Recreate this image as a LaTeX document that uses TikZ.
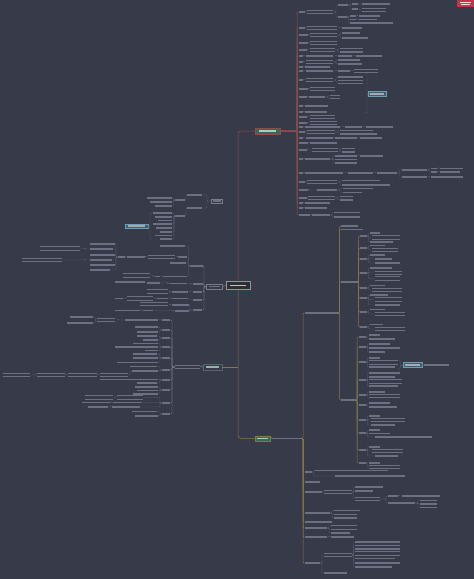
\documentclass[tikz,border=0pt]{standalone}
\usetikzlibrary{calc}
\definecolor{bgc}{HTML}{373A49}
\definecolor{txc}{HTML}{6D7081}
\definecolor{cnc}{HTML}{5C5F70}
\definecolor{rbc}{HTML}{8A4E4B}
\definecolor{olc}{HTML}{857847}
\definecolor{glc}{HTML}{787B8B}
\definecolor{grn}{HTML}{5FB38A}
\definecolor{grnfill}{HTML}{41645A}
\definecolor{grntx}{HTML}{9FD3B6}
\definecolor{tealfill}{HTML}{3F5F6E}
\definecolor{tealline}{HTML}{6D9DB0}
\definecolor{redc}{HTML}{C8334B}
\tikzset{
  conn/.style={draw=cnc, line width=0.35pt, rounded corners=0.8pt},
  rbline/.style={draw=rbc, line width=0.5pt, rounded corners=1pt},
  olline/.style={draw=olc, line width=0.5pt, rounded corners=1pt},
  glline/.style={draw=glc, line width=0.45pt, rounded corners=1pt},
  txtc/.style={fill=txc},
  cbox/.style={draw=grn, fill=black!20!bgc, line width=0.6pt, minimum width=24pt, minimum height=8pt, inner sep=0pt},
  brbox/.style={fill=grnfill, line width=0.5pt, inner sep=0pt},
  plainbox/.style={draw=glc, fill=bgc, line width=0.4pt, inner sep=0pt},
  sbox/.style={draw=tealline, fill=tealfill, line width=0.4pt, inner sep=0pt},
  redbox/.style={fill=redc, inner sep=0pt, minimum width=17pt, minimum height=7pt}
}
\newcommand\tbar[4]{\foreach \k in {1,...,#4}{\fill[txtc] ({#1},{#3+(\k-(#4+1)/2)*3.4-0.55}) rectangle ({#2},{#3+(\k-(#4+1)/2)*3.4+0.55});}}
\newcommand\RG[5][conn]{\foreach \yy/\xa/\xb/\nn in {#5}{\draw[#1] (#2,#3) -- (#4,#3) -- (#4,\yy) -- ({\xa-0.7},\yy); \tbar{\xa}{\xb}{\yy}{\nn}}}
\newcommand\LG[5][conn]{\foreach \yy/\xa/\xb/\nn in {#5}{\draw[#1] (#2,#3) -- (#4,#3) -- (#4,\yy) -- ({\xb+0.7},\yy); \tbar{\xa}{\xb}{\yy}{\nn}}}
\begin{document}
\begin{tikzpicture}[x=1pt,y=-1pt]
\fill[bgc] (0,0) rectangle (474,579);
\useasboundingbox (0,0) rectangle (474,579);

% ---------- main nodes ----------
\node[cbox] (center) at (238,285.5) {};
\fill[grntx] (230,284.8) rectangle (246,286.2);
\node[brbox, draw=rbc, minimum width=25pt, minimum height=6pt] (b1) at (267.5,131) {};
\fill[grntx] (259,130.4) rectangle (276,131.6);
\node[brbox, draw=olc, minimum width=15pt, minimum height=5.5pt] (b4) at (262.5,438.5) {};
\fill[grntx] (257,437.9) rectangle (268,439.1);
\node[plainbox, minimum width=16pt, minimum height=5pt] (b2) at (214,286.5) {};
\fill[txc] (208.5,285.9) rectangle (219.5,287.1);
\node[plainbox, draw=cnc, minimum width=19pt, minimum height=6pt] (b3) at (212.5,367) {};
\fill[grntx!70!txc] (206,366.4) rectangle (219,367.6);
\node[sbox, minimum width=18pt, minimum height=5pt] (s1) at (377,94) {};
\fill[txc!60!white] (370,93.4) rectangle (384,94.6);
\node[sbox, minimum width=23pt, minimum height=4.5pt] (s2) at (136.5,226) {};
\fill[txc!60!white] (128,225.4) rectangle (145,226.6);
\node[sbox, minimum width=19pt, minimum height=5pt] (s3) at (412.5,365) {};
\fill[txc!60!white] (405,364.4) rectangle (420,365.6);
\node[plainbox, minimum width=11pt, minimum height=4.5pt] (f1) at (216.5,201) {};
\fill[txc] (212.5,200.4) rectangle (220.5,201.6);
\node[redbox] (badge) at (465.5,3.5) {};
\fill[white!85!redc] (460,1.8) rectangle (471,2.7);
\fill[white!85!redc] (461,4.3) rectangle (470,5.2);

% ---------- trunk connectors ----------
\draw[rbline, rounded corners=3pt] (center.north) -- (center.north |- b1) -- (b1.west);
\draw[olline, rounded corners=3pt] (center.south) -- (center.south |- b4) -- (b4.west);
\draw[olline, rounded corners=3pt] (center.south |- b3) -- (b3.east);
\draw[glline] (center.west) -- (b2.east);

% ---------- branch 1 (top right) ----------
\RG[rbline]{280}{131}{297}{12/299/305/1, 28/299/305/1, 35/299/308/1, 43/299/308/1, 50/299/307/1, 56/299/303/1, 62/299/303/1, 67/299/303/1, 71/299/303/1, 80/299/303/1, 89/299/308/1, 97/299/307/1, 106/299/303/1, 112/299/303/1, 117/299/307/1, 123/299/307/1, 127/299/303/1, 132/299/305/1, 138/299/303/1, 143/299/308/1, 150/299/307/1, 159/299/303/1, 173/299/303/1, 182/299/305/1, 190/299/308/1, 198/299/307/1, 203/299/303/1, 208/299/303/1, 215/299/310/1}
\RG{305}{12}{306}{12/307/333/2}
\RG{305}{28}{306}{28/307/337/2}
\RG{308}{35}{309}{35/310/337/2}
\RG{308}{43}{309}{43/310/337/2}
\RG{307}{50}{308}{50/310/335/2}
\RG{303}{56}{304}{56/306/333/1}
\RG{303}{62}{304}{62/306/333/2}
\RG{303}{67}{304}{67/305/330/1}
\RG{303}{71}{304}{71/306/333/1}
\RG{303}{80}{304}{80/306/333/2}
\RG{308}{89}{309}{89/310/335/2}
\RG{307}{97}{308}{97/309/325/1}
\RG{303}{106}{304}{106/305/328/1}
\RG{303}{112}{304}{112/305/327/1}
\RG{307}{117}{308}{117/310/335/2}
\RG{307}{123}{308}{123/310/337/2}
\RG{303}{127}{304}{127/305/340/1}
\RG{305}{132}{306}{132/307/335/2}
\RG{303}{138}{304}{138/306/333/1}
\RG{308}{143}{309}{143/310/337/1}
\RG{307}{150}{308}{150/312/338/2}
\RG{303}{159}{304}{159/305/330/1}
\RG{303}{173}{304}{173/305/343/1}
\RG{305}{182}{306}{182/307/337/2}
\RG{308}{190}{309}{190/317/337/1}
\RG{307}{198}{308}{198/308/335/2}
\RG{303}{203}{304}{203/305/330/1}
\RG{303}{208}{304}{208/305/327/1}
\RG{310}{215}{311}{215/312/330/1}
\RG{333}{12}{336}{5/338/348/1, 17/338/347/1}
\RG{348}{5}{350}{4/352/358/1, 9/352/358/1}
\RG{358}{4}{360}{4/362/390/1}
\RG{358}{9}{360}{10/362/386/2}
\RG{347}{17}{348.5}{16/350/356/1, 19.5/350/356/1, 23/350/393/1}
\RG{356}{16}{357.5}{16/359/380/1}
\RG{356}{19.5}{357.5}{19.5/359/377/1}
\RG{337}{28}{340}{28/342/362/1}
\RG{337}{35}{340}{33/342/360/1, 38/342/368/1}
\RG{335}{50}{338}{48.5/340/363/1, 52/340/363/1}
\RG{333}{56}{336}{56/338/352/1}
\RG{352}{56}{354}{56/356/382/1}
\RG{333}{62}{336}{60/338/360/1, 64/338/362/1}
\RG{333}{71}{336}{71/338/350/1}
\RG{350}{71}{352}{71/354/378/2}
\RG{333}{80}{336}{77/338/363/1, 82/338/363/2}
\RG{325}{97}{328}{95.5/330/340/1, 98.5/330/340/1}
\RG{340}{127}{343}{127/345/362/1}
\RG{362}{127}{364}{127/366/393/1}
\RG{335}{132}{338}{130.5/340/373/1, 134/340/377/1}
\RG{333}{138}{334}{138/335/357/1}
\RG{357}{138}{358.5}{138/360/382/1}
\RG{338}{150}{340}{148.5/342/355/1, 152/342/355/1}
\RG{330}{159}{333}{156/335/357/1, 159.5/335/357/1, 163/335/357/1}
\RG{357}{156}{358.5}{156/360/383/1}
\RG{343}{173}{346}{173/348/373/1}
\RG{373}{173}{375}{173/377/397/1}
\RG{397}{173}{399.5}{170/402/427/1, 177/402/427/1}
\RG{427}{170}{429}{168.5/431/437/1, 172/431/437/1}
\RG{437}{168.5}{438.5}{168.5/440/463/1}
\RG{437}{172}{438.5}{172/440/460/1}
\RG{427}{177}{429}{177/431/463/1}
\RG{337}{182}{340}{180.5/342/380/1, 185/342/390/1}
\RG{337}{190}{340}{188.5/343/373/1, 192.5/343/362/1}
\RG{335}{198}{338}{196.5/340/353/1, 200/340/353/1}
\RG{330}{215}{332}{212.5/334/360/1, 217/334/360/1}
\draw[conn] (365,73) -- (367,73) -- (367,113) -- (365,113);
\draw[conn] (367,94) -- (s1.west);

% ---------- branch 4 (bottom right) ----------
\RG[olline]{270}{438.5}{271.5}{438.5/273/300/1}
\RG[olline]{300}{438.5}{303}{313/305/338/1, 472/305/312/1, 482/305/320/1, 492/305/322/1, 513/305/330/1, 522/305/332/1, 528/305/327/1, 537/305/327/1, 563/305/320/1}
\RG[olline]{338}{313}{339.5}{226/341/358/1, 229.5/341/363/1, 282/341/357/1, 400/341/355/1}
\RG[olline]{357}{282}{358.5}{236/360/367/1, 248/360/367/1, 259/360/367/1, 273/360/367/1, 288/360/367/1, 298/360/367/1, 312/360/367/1, 327/360/367/1}
\RG{367}{236}{368.5}{233/370/380/1, 237.5/372/400/2, 242/370/393/1}
\RG{367}{248}{368.5}{245.5/370/385/1, 250/372/398/2}
\RG{367}{259}{368.5}{255/370/385/1, 259/375/392/1, 263/375/400/1}
\RG{367}{273}{368.5}{268/370/392/1, 273/375/402/2, 278.5/375/400/2}
\RG{367}{288}{368.5}{285.5/370/385/1, 290/372/402/2}
\RG{367}{298}{368.5}{295/370/388/1, 299.5/375/402/2, 305/375/400/1}
\RG{367}{312}{368.5}{309.5/370/385/1, 314/375/405/2}
\RG{367}{327}{368.5}{324.5/370/383/1, 329/375/405/2}
\RG[olline]{355}{400}{357}{337/359/366/1, 347/359/366/1, 362/359/366/1, 380/359/366/1, 395/359/366/1, 405/359/366/1, 420/359/366/1, 433/359/366/1, 450/359/366/1, 463/359/366/1}
\RG{366}{337}{367.5}{335/369/380/1, 339/369/395/1}
\RG{366}{347}{367.5}{344/369/390/1, 348/369/400/1, 352/369/385/1}
\RG{366}{362}{367.5}{358/369/380/1, 362.5/369/398/2, 367/369/395/1}
\draw[conn] (399,360.5) -- (400.5,360.5) -- (400.5,368.5) -- (399,368.5);
\draw[conn] (400.5,365) -- (s3.west);
\RG{422}{365}{423}{365/424/449/1}
\RG{366}{380}{367.5}{373/369/400/1, 377/369/395/1, 381.5/369/402/2, 386/369/398/1}
\RG{366}{395}{367.5}{392/369/385/1, 396/369/400/2}
\RG{366}{405}{367.5}{403/369/390/1, 407/369/397/1}
\RG{366}{420}{367.5}{416/369/380/1, 420/371/405/2, 425/371/395/1}
\RG{366}{433}{367.5}{430/369/380/1, 433.5/369/390/1, 437/375/432/1}
\RG{366}{450}{367.5}{447/369/380/1, 451/372/403/2, 456/375/398/1}
\RG{366}{463}{367.5}{463/369/380/1, 467/369/400/2}
\RG{312}{472}{313.5}{470.5/315/388/1, 476/335/405/1}
\RG{322}{492}{323}{492/324/352/2}
\RG{352}{492}{353.5}{487/355/383/1, 491/355/373/1, 499/355/380/2}
\RG{380}{499}{386}{496/388/398/1, 503/388/415/1}
\RG{398}{496}{399.5}{496/402/440/1}
\RG{415}{503}{418}{500.5/420/437/1, 504/420/437/1, 507.5/420/437/1}
\RG{330}{513}{332}{510.5/334/360/1, 514.5/334/357/1, 518/334/357/1}
\RG{327}{528}{329}{525.5/331/357/1, 529.5/331/357/1, 533/331/350/1}
\RG{327}{537}{329}{537/331/354/1}
\RG{320}{563}{322}{555/324/352/2, 573/324/347/1}
\RG{352}{555}{353.5}{542/355/400/1, 545.5/355/400/1, 549/355/400/1, 553.5/355/400/2, 558.5/355/395/1, 563/355/400/1, 567/355/392/1}

% ---------- branch 3 (left lower) ----------
\LG[glline]{203}{367}{201.5}{367/175/200/2}
\LG[glline]{175}{367}{172}{320/162/170/1, 330/162/170/1, 338/162/170/1, 347/162/170/1, 358/162/170/1, 370/162/170/1, 380/162/170/1, 390/162/170/1, 403/162/170/1, 414/162/170/1}
\LG{162}{320}{160}{320/125/158/1}
\LG{125}{320}{118}{320/97/115/2}
\LG{97}{320}{95}{317/70/93/1, 323/67/93/1}
\LG{162}{330}{160}{327/135/158/1, 332/137/158/1}
\LG{162}{338}{160}{336/137/157/1, 340/143/158/1}
\LG{162}{347}{160}{343.5/133/158/1, 347/115/158/1, 350.5/145/158/1}
\LG{162}{358}{160}{354/133/157/1, 358/133/158/1, 362.5/117/158/1}
\LG{162}{370}{160}{366.5/130/157/1, 371/132/158/1}
\LG{132}{371}{130}{375/100/128/2}
\LG{100}{375}{98}{375/68/97/2}
\LG{68}{375}{66}{375/37/65/2}
\LG{37}{375}{35}{375/3/30/2}
\LG{162}{380}{160}{379.5/100/158/1, 383/137/157/1}
\LG{162}{390}{160}{387/135/158/1, 390.5/137/158/1, 394/133/158/1}
\LG{162}{403}{160}{397.5/117/143/2, 402.5/113/142/1, 407/112/140/1}
\LG{117}{397.5}{115}{397.5/85/113/2}
\LG{113}{402.5}{111}{402.5/82/110/1}
\LG{112}{407}{110}{407/88/108/1}
\LG{162}{414}{160}{411.5/132/157/1, 416/135/158/1}

% ---------- branch 2 (left upper) ----------
\LG[glline]{206}{286.5}{204}{266/190/203/1, 284/193/203/1, 292/193/202/1, 300/193/202/1, 310/193/202/1}
\LG{190}{266}{188.5}{246/160/185/1, 257/178/187/1, 263/170/186/1, 276.5/163/187/1}
\LG{178}{257}{176.5}{257/148/175/2}
\LG{148}{257}{146}{257/127/145/1}
\LG{127}{257}{125.5}{257/118/124.5/1}
\LG{118}{257}{116}{244/90/115/1, 249/90/113/1, 255/90/115/1, 260/90/112/1, 265/90/115/1, 270/90/110/1}
\LG{90}{249}{85}{248.5/40/80/2}
\LG{90}{260}{85}{260/22/62/2}
\LG{163}{276.5}{161.5}{276.5/155/160/1}
\LG{155}{276.5}{153}{275.5/123/150/2}
\LG{193}{284}{191}{283.5/170/187/1}
\LG{170}{283.5}{168}{283/147/160/1, 282/115/145/1}
\LG{193}{292}{190}{292/172/188/1}
\LG{172}{292}{170}{291.5/147/168/2}
\LG{193}{300}{190}{298.5/172/188/1}
\LG{172}{298.5}{170}{298.5/157/168/1}
\LG{157}{298.5}{155}{298.5/127/153/2}
\LG{127}{298.5}{125}{298.5/115/123/1}
\LG{193}{310}{190}{305/172/189/1, 311/175/189/1}
\LG{172}{305}{170}{304/140/168/2}
\LG{175}{311}{173}{310.5/143/153/1}
\LG{143}{310.5}{141}{310.5/115/140/1}

% ---------- floating topic (upper left) ----------
\LG{211}{201}{207}{195/187/202/1, 208/187/202/1}
\LG{187}{195}{186}{200/175/185/1}
\LG{175}{200}{173.5}{198/147/172/1, 202/150/172/1, 206/155/172/1}
\LG{187}{208}{186}{216/175/185/1}
\LG{175}{216}{174}{213/153/172/1, 217/155/172/1, 220.5/158/172/1, 224/153/172/1, 228/156/172/1, 232/160/172/1, 235.5/155/172/1, 239/160/172/1}
\draw[conn] (152.3,213) -- (150,213) -- (150,239) -- (152.3,239);
\draw[conn] (150,226) -- (s2.east);
\end{tikzpicture}
\end{document}
